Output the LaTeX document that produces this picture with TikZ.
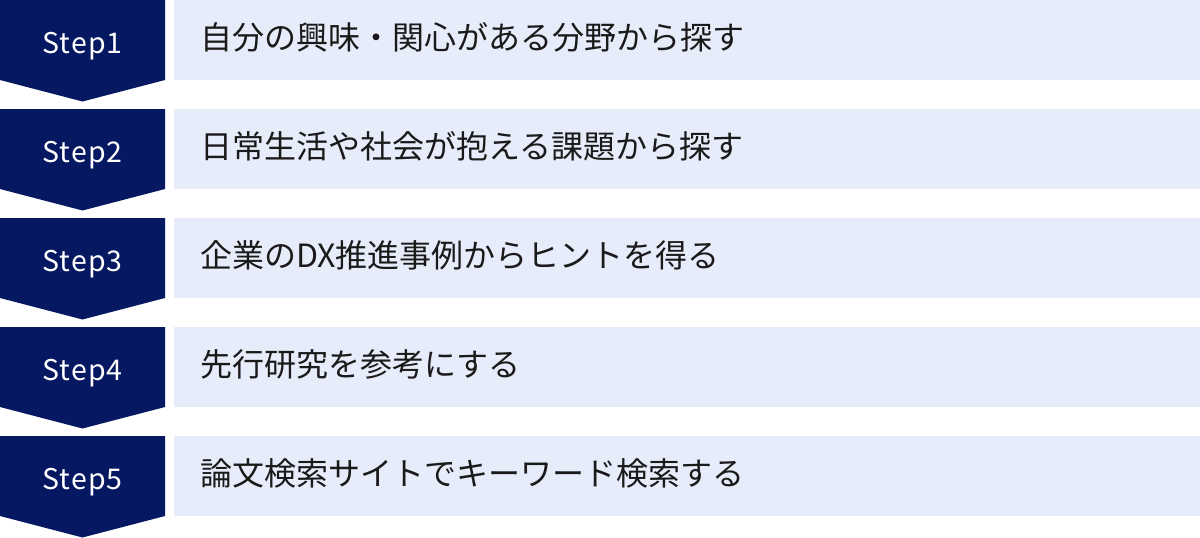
\documentclass[tikz,border=0pt]{standalone}
\usepackage{fontspec}
\setmainfont{Noto Sans CJK JP}
\newfontfamily\cjkfont{Noto Sans CJK JP}
\newfontfamily\stepfont[LetterSpace=4]{Noto Sans CJK JP}
\definecolor{navy}{HTML}{061862}
\definecolor{barblue}{HTML}{E6ECF9}
\definecolor{txt}{HTML}{1A1A1A}
\tikzset{
  chevron/.style={fill=navy, draw=none},
  bar/.style={fill=barblue, draw=none},
  steplabel/.style={text=white, inner sep=0pt, anchor=base, font=\stepfont\fontsize{28.5}{34}\selectfont},
  desc/.style={text=txt, inner sep=0pt, anchor=base west, font=\cjkfont\fontsize{32}{38}\selectfont},
}
\begin{document}
\begin{tikzpicture}[x=1pt, y=-1pt]
\useasboundingbox (0,0) rectangle (1200,538);
\foreach \i/\t in {1/{自分の興味・関心がある分野から探す},2/{日常生活や社会が抱える課題から探す},3/{企業のDX推進事例からヒントを得る},4/{先行研究を参考にする},5/{論文検索サイトでキーワード検索する}}{
  \pgfmathsetmacro{\top}{109*(\i-1)}
  \fill[chevron] (0,\top) -- (165,\top) -- (165,\top+80) -- (82.5,\top+101.5) -- (0,\top+80) -- cycle;
  \fill[bar] (174,\top) rectangle (1200,\top+80);
  \node[steplabel] (step\i) at (82.5,\top+53) {Step\i};
  \node[desc] (desc\i) at (200,\top+49) {\t};
}
\end{tikzpicture}
\end{document}
